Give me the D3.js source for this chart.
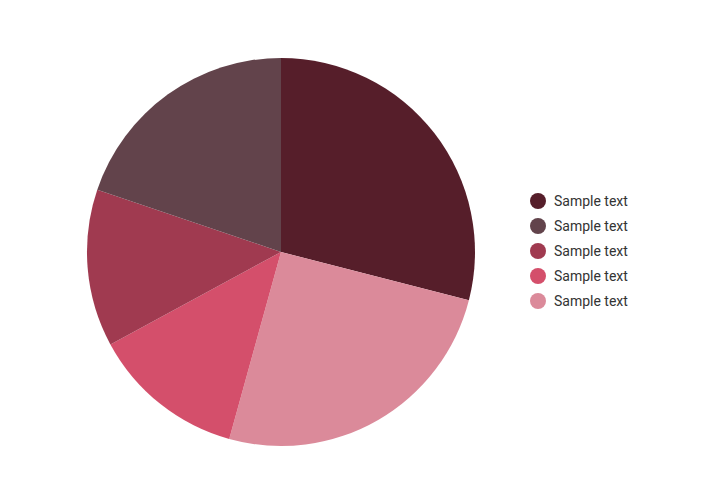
<!DOCTYPE html>
<html><head><meta charset="utf-8">
<script src="https://cdn.jsdelivr.net/npm/d3@7"></script>
<style>body{margin:0;background:#fff}</style>
</head><body>
<svg id="chart" width="720" height="504"></svg>
<script>
const categories = ["A", "B", "C", "D", "E"];
const values = [29.0, 25.3, 12.8, 13.1, 19.8];
const colors = ["#561e2a", "#db8a9a", "#d44f6b", "#a03a50", "#62434b"];
const legendLabels = ["Sample text", "Sample text", "Sample text", "Sample text", "Sample text"];
const legendOrder = [0, 4, 3, 2, 1];

const svg = d3.select("#chart");
const cx = 281, cy = 252, r = 194;
const pie = d3.pie().sort(null).value(d => d.v);
const arc = d3.arc().innerRadius(0).outerRadius(r);
const data = categories.map((c, i) => ({c, v: values[i], color: colors[i]}));
svg.append("g").attr("transform", `translate(${cx},${cy})`)
  .selectAll("path").data(pie(data)).join("path")
  .attr("d", arc).attr("fill", d => d.data.color);

const lg = svg.append("g").attr("transform", "translate(538,201)");
const y = d3.scalePoint().domain(d3.range(legendOrder.length)).range([0, 100]);
const items = lg.selectAll("g").data(legendOrder).join("g")
  .attr("transform", (d, i) => `translate(0,${y(i)})`);
items.append("circle").attr("r", 8).attr("fill", d => colors[d]);
items.append("text").attr("x", 16).attr("dy", "0.35em")
  .attr("font-family", "Roboto, sans-serif").attr("font-size", 14).attr("fill", "#333")
  .text((d, i) => legendLabels[i]);
</script>
</body></html>
